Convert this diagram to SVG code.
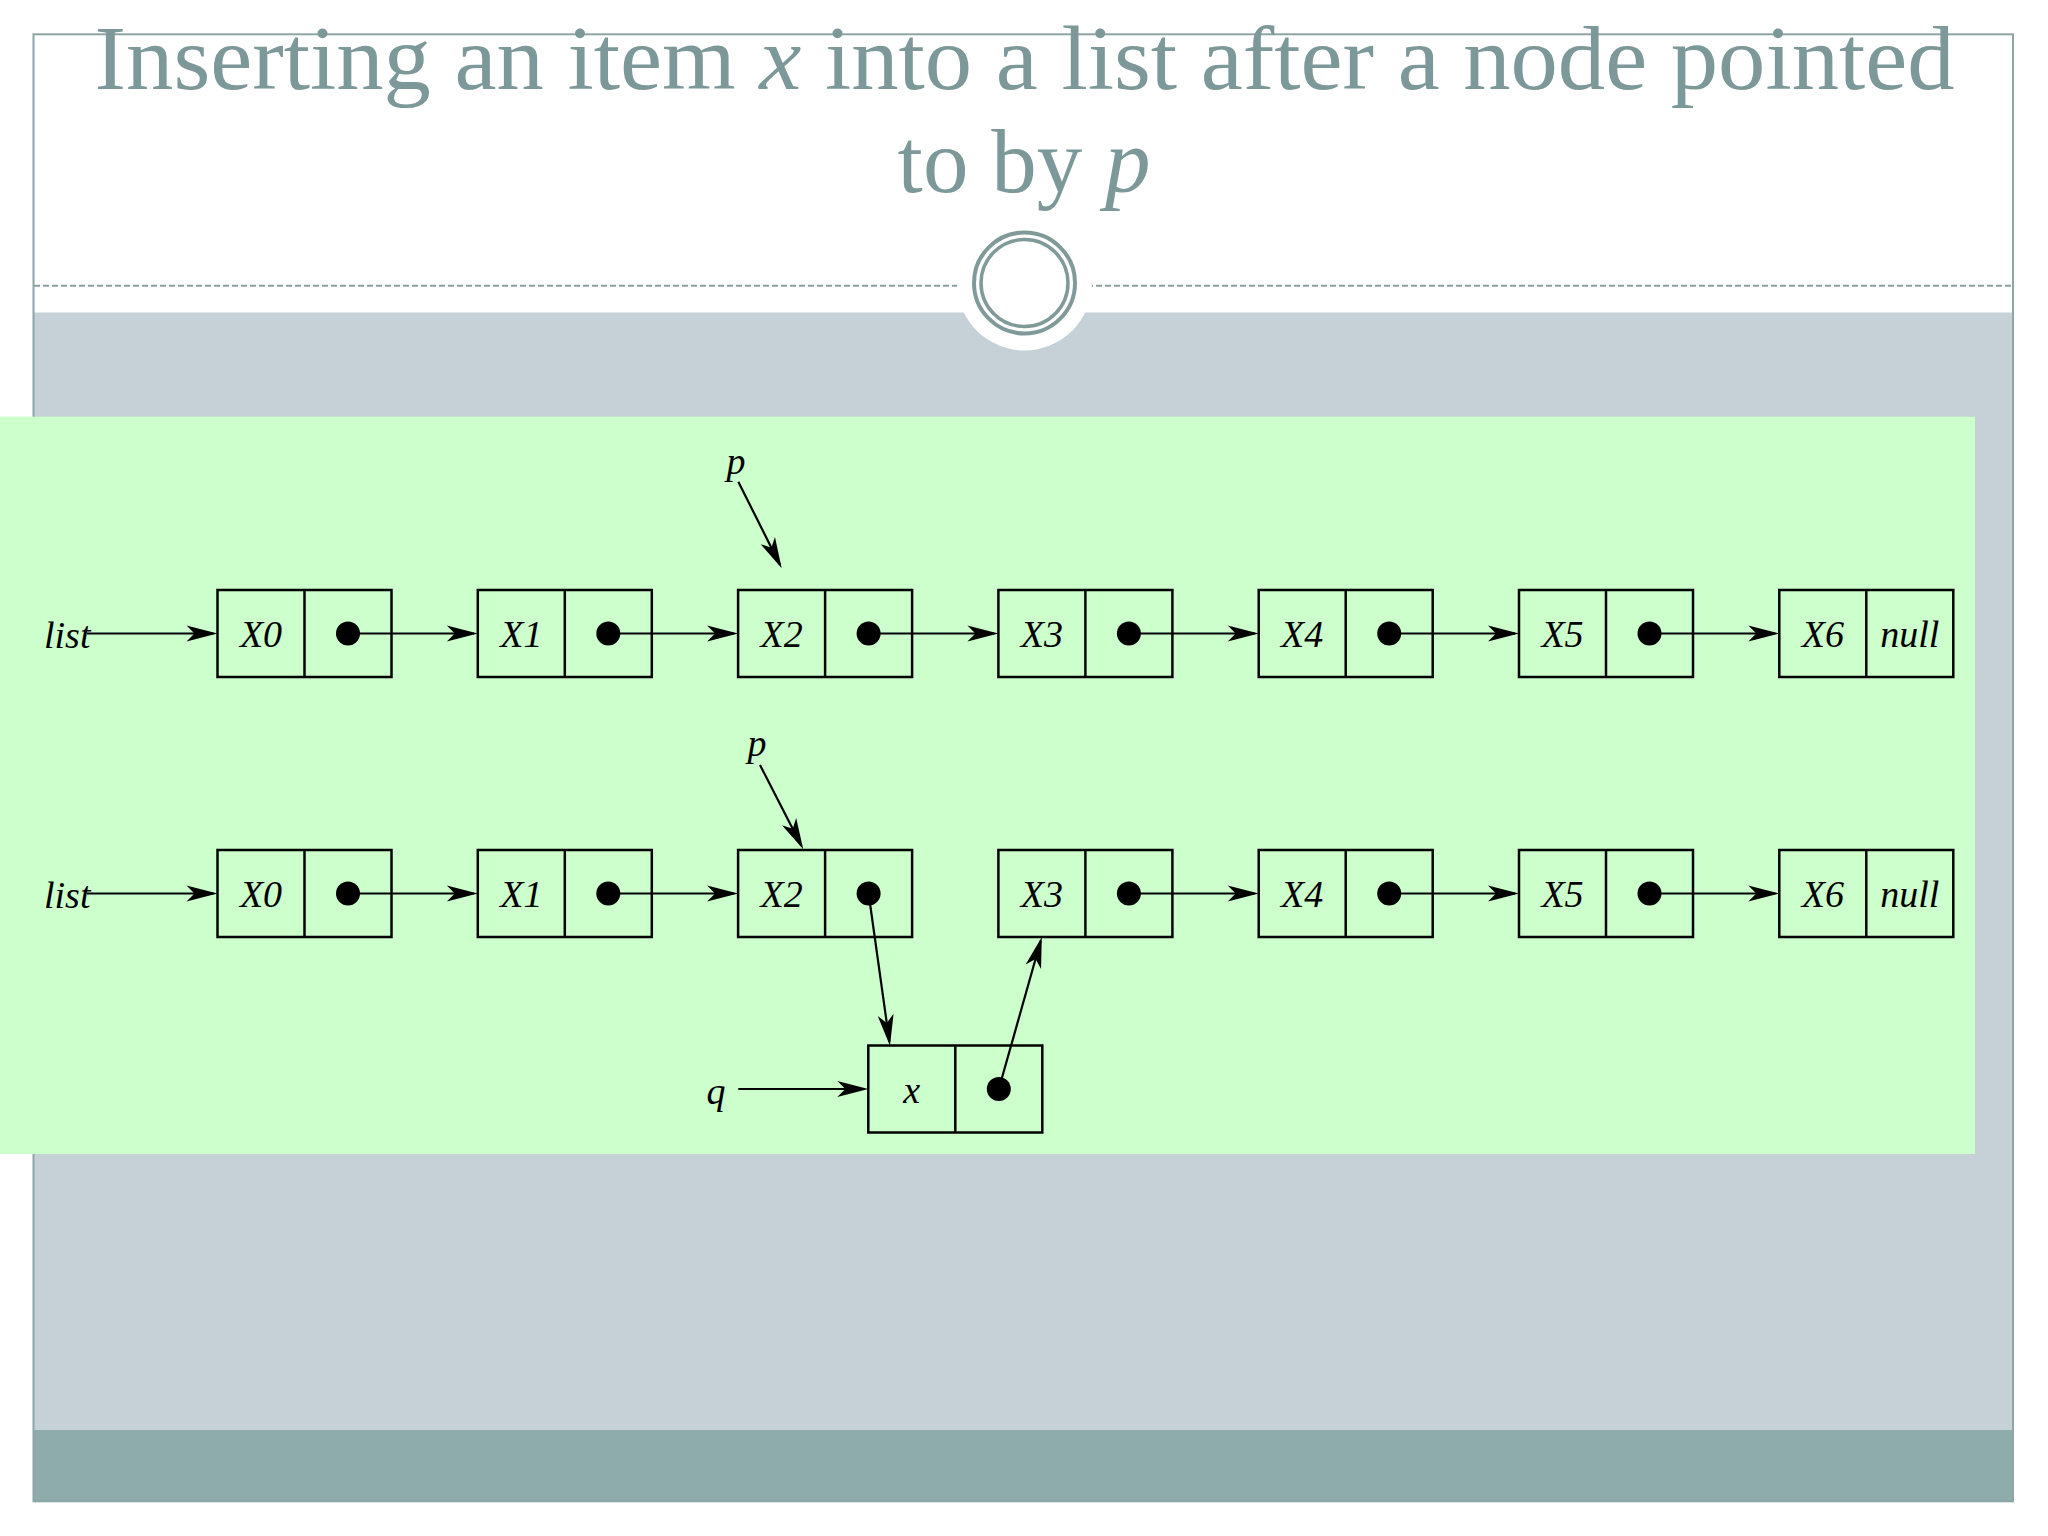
<svg xmlns="http://www.w3.org/2000/svg" width="2048" height="1536" viewBox="0 0 2048 1536">
  <defs>
    <marker id="ah" markerUnits="userSpaceOnUse" markerWidth="36" markerHeight="20" viewBox="-32 -10 36 20" refX="-4" refY="0" orient="auto">
      <path d="M0,0 L-31,-8 L-23,0 L-31,8 Z" fill="#000"/>
    </marker>
  </defs>
  <style>
    .title { font-family: "Liberation Serif", "DejaVu Serif", serif; font-size: 91px; fill: #7d9898; }
    .lbl { font-family: "Liberation Serif", "Times New Roman", serif; font-style: italic; font-size: 38px; fill: #000; }
    .box { fill: none; stroke: #000; stroke-width: 2.5; }
    .dot { fill: #000; }
    .conn line { stroke: #000; stroke-width: 2.2; marker-end: url(#ah); }
  </style>

  <!-- slide background -->
  <rect x="0" y="0" width="2048" height="1536" fill="#ffffff"/>
  <rect x="33.5" y="312.5" width="1979.5" height="1118" fill="#c5d1d6"/>
  <rect x="33.5" y="1430" width="1979.5" height="71.5" fill="#8eacac"/>
  <rect x="33.5" y="34.3" width="1979.5" height="1467" fill="none" stroke="#8ea5a5" stroke-width="2"/>
  <line x1="34" y1="285.7" x2="2013" y2="285.7" stroke="#8aa0a0" stroke-width="2" stroke-dasharray="6 3"/>
  <circle cx="1024.5" cy="283" r="67.5" fill="#ffffff"/>
  <circle cx="1024.5" cy="283" r="50.5" fill="none" stroke="#7f9a98" stroke-width="4"/>
  <circle cx="1024.5" cy="283" r="43.5" fill="none" stroke="#7f9a98" stroke-width="3.5"/>

  <text class="title" x="94.6" y="89.3" textLength="1860" lengthAdjust="spacingAndGlyphs">Inserting an item <tspan font-style="italic">x</tspan> into a list after a node pointed</text>
  <text class="title" x="1024" y="191.7" text-anchor="middle">to by <tspan font-style="italic">p</tspan></text>

  <!-- green diagram panel -->
  <rect x="0" y="416.7" width="1975" height="737.3" fill="#ccffcc"/>

  <!-- free labels -->
  <g id="labels">
    <text class="lbl" x="44" y="648">list</text>
    <text class="lbl" x="44" y="908">list</text>
    <text class="lbl" x="736" y="474" text-anchor="middle">p</text>
    <text class="lbl" x="757" y="755.5" text-anchor="middle">p</text>
    <text class="lbl" x="716" y="1104" text-anchor="middle">q</text>
  </g>

  <!-- row 1 nodes -->
  <g id="r1-x0"><rect class="box" x="217.5" y="590" width="174" height="87"/><line class="box" x1="304.5" y1="590" x2="304.5" y2="677"/><text class="lbl" x="261" y="647.3" text-anchor="middle">X0</text><circle class="dot" cx="348" cy="633.5" r="12"/></g>
  <g id="r1-x1"><rect class="box" x="477.8" y="590" width="174" height="87"/><line class="box" x1="564.8" y1="590" x2="564.8" y2="677"/><text class="lbl" x="521.3" y="647.3" text-anchor="middle">X1</text><circle class="dot" cx="608.3" cy="633.5" r="12"/></g>
  <g id="r1-x2"><rect class="box" x="738.1" y="590" width="174" height="87"/><line class="box" x1="825.1" y1="590" x2="825.1" y2="677"/><text class="lbl" x="781.6" y="647.3" text-anchor="middle">X2</text><circle class="dot" cx="868.6" cy="633.5" r="12"/></g>
  <g id="r1-x3"><rect class="box" x="998.4" y="590" width="174" height="87"/><line class="box" x1="1085.4" y1="590" x2="1085.4" y2="677"/><text class="lbl" x="1041.9" y="647.3" text-anchor="middle">X3</text><circle class="dot" cx="1128.9" cy="633.5" r="12"/></g>
  <g id="r1-x4"><rect class="box" x="1258.7" y="590" width="174" height="87"/><line class="box" x1="1345.7" y1="590" x2="1345.7" y2="677"/><text class="lbl" x="1302.2" y="647.3" text-anchor="middle">X4</text><circle class="dot" cx="1389.2" cy="633.5" r="12"/></g>
  <g id="r1-x5"><rect class="box" x="1519" y="590" width="174" height="87"/><line class="box" x1="1606" y1="590" x2="1606" y2="677"/><text class="lbl" x="1562.5" y="647.3" text-anchor="middle">X5</text><circle class="dot" cx="1649.5" cy="633.5" r="12"/></g>
  <g id="r1-x6"><rect class="box" x="1779.3" y="590" width="174" height="87"/><line class="box" x1="1866.3" y1="590" x2="1866.3" y2="677"/><text class="lbl" x="1822.8" y="647.3" text-anchor="middle">X6</text><text class="lbl" x="1909.8" y="647.3" text-anchor="middle">null</text></g>

  <!-- row 2 nodes -->
  <g id="r2-x0"><rect class="box" x="217.5" y="850" width="174" height="87"/><line class="box" x1="304.5" y1="850" x2="304.5" y2="937"/><text class="lbl" x="261" y="907.3" text-anchor="middle">X0</text><circle class="dot" cx="348" cy="893.5" r="12"/></g>
  <g id="r2-x1"><rect class="box" x="477.8" y="850" width="174" height="87"/><line class="box" x1="564.8" y1="850" x2="564.8" y2="937"/><text class="lbl" x="521.3" y="907.3" text-anchor="middle">X1</text><circle class="dot" cx="608.3" cy="893.5" r="12"/></g>
  <g id="r2-x2"><rect class="box" x="738.1" y="850" width="174" height="87"/><line class="box" x1="825.1" y1="850" x2="825.1" y2="937"/><text class="lbl" x="781.6" y="907.3" text-anchor="middle">X2</text><circle class="dot" cx="868.6" cy="893.5" r="12"/></g>
  <g id="r2-x3"><rect class="box" x="998.4" y="850" width="174" height="87"/><line class="box" x1="1085.4" y1="850" x2="1085.4" y2="937"/><text class="lbl" x="1041.9" y="907.3" text-anchor="middle">X3</text><circle class="dot" cx="1128.9" cy="893.5" r="12"/></g>
  <g id="r2-x4"><rect class="box" x="1258.7" y="850" width="174" height="87"/><line class="box" x1="1345.7" y1="850" x2="1345.7" y2="937"/><text class="lbl" x="1302.2" y="907.3" text-anchor="middle">X4</text><circle class="dot" cx="1389.2" cy="893.5" r="12"/></g>
  <g id="r2-x5"><rect class="box" x="1519" y="850" width="174" height="87"/><line class="box" x1="1606" y1="850" x2="1606" y2="937"/><text class="lbl" x="1562.5" y="907.3" text-anchor="middle">X5</text><circle class="dot" cx="1649.5" cy="893.5" r="12"/></g>
  <g id="r2-x6"><rect class="box" x="1779.3" y="850" width="174" height="87"/><line class="box" x1="1866.3" y1="850" x2="1866.3" y2="937"/><text class="lbl" x="1822.8" y="907.3" text-anchor="middle">X6</text><text class="lbl" x="1909.8" y="907.3" text-anchor="middle">null</text></g>

  <!-- new node x -->
  <g id="node-x"><rect class="box" x="868.3" y="1045.5" width="174" height="87"/><line class="box" x1="955.3" y1="1045.5" x2="955.3" y2="1132.5"/><text class="lbl" x="911.8" y="1103" text-anchor="middle">x</text><circle class="dot" cx="998.8" cy="1089" r="12"/></g>

  <!-- connectors -->
  <g id="connectors" class="conn">
    <line x1="87" y1="633.5" x2="213.5" y2="633.5"/>
    <line x1="348" y1="633.5" x2="473.8" y2="633.5"/>
    <line x1="608.3" y1="633.5" x2="734.1" y2="633.5"/>
    <line x1="868.6" y1="633.5" x2="994.4" y2="633.5"/>
    <line x1="1128.9" y1="633.5" x2="1254.7" y2="633.5"/>
    <line x1="1389.2" y1="633.5" x2="1515" y2="633.5"/>
    <line x1="1649.5" y1="633.5" x2="1775.3" y2="633.5"/>

    <line x1="87" y1="893.5" x2="213.5" y2="893.5"/>
    <line x1="348" y1="893.5" x2="473.8" y2="893.5"/>
    <line x1="608.3" y1="893.5" x2="734.1" y2="893.5"/>
    <line x1="1128.9" y1="893.5" x2="1254.7" y2="893.5"/>
    <line x1="1389.2" y1="893.5" x2="1515" y2="893.5"/>
    <line x1="1649.5" y1="893.5" x2="1775.3" y2="893.5"/>

    <line x1="738.3" y1="481.7" x2="779.9" y2="564.7"/>
    <line x1="760" y1="765" x2="801.4" y2="845.7"/>
    <line x1="738.3" y1="1089" x2="864.3" y2="1089"/>
    <line x1="868.6" y1="893.5" x2="889.4" y2="1041.7"/>
    <line x1="998.8" y1="1089" x2="1040.7" y2="940.8"/>
  </g>
</svg>
